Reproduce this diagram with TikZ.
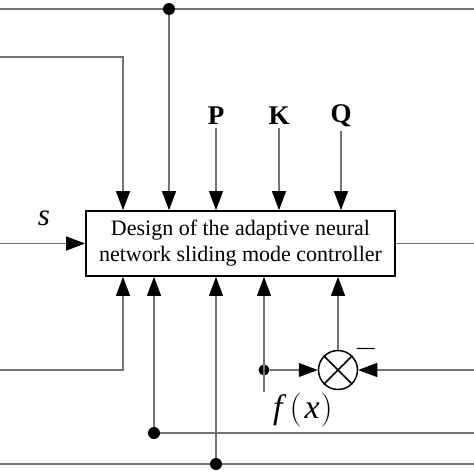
\RequirePackage{fix-cm}
\documentclass[tikz,border=0pt]{standalone}
\usepackage{fontspec}
\setmainfont{Liberation Serif}
\usetikzlibrary{arrows.meta,positioning}
\definecolor{wire}{gray}{0.45}

\begin{document}
\begin{tikzpicture}[x=1pt,y=-1pt,
    wire/.style={draw=wire, line width=1.1pt},
    sig/.style={wire, -{Triangle[length=19pt,width=14pt,color=black]}},
    ctrlbox/.style={draw, line width=1.7pt, minimum width=309pt, minimum height=65pt,
      inner sep=0pt, align=center, font=\fontsize{22}{26}\selectfont},
    junction/.style={circle, fill, inner sep=0pt, minimum size=12pt},
    gain/.style={font=\fontsize{27}{28}\selectfont\bfseries},
    mult/.style={circle, draw, line width=1.5pt, minimum size=39pt, inner sep=0pt}]
  \useasboundingbox (0,0) rectangle (474,474);
  \node[ctrlbox] (ctrl) at (240.5,243.5) {Design of the adaptive neural\\network sliding mode controller};

  % inputs from above
  \coordinate (topL) at (0,9);
  \coordinate (topR) at (474,9);
  \draw[wire] (topL) -- (topR);
  \node[junction] (dTop) at (169,9) {};
  \draw[sig] (dTop) -- (dTop |- ctrl.north);
  \coordinate (in2) at (0,57);
  \coordinate (in2c) at (123,57);
  \draw[sig] (in2) -- (in2c) -- (in2c |- ctrl.north);
  \node[gain] (P) at (216,116) {P};
  \node[gain] (K) at (279,116) {K};
  \node[gain] (Q) at (341,116) {Q};
  \foreach \g in {P,K,Q}
    \draw[sig] (\g.south) -- (\g |- ctrl.north);

  % left and right
  \node[font=\fontsize{31}{32}\selectfont\itshape] (s) at (44,218) {s};
  \coordinate (sIn) at (0,243.5);
  \coordinate (out) at (474,243.5);
  \draw[sig] (sIn) -- (ctrl.west);
  \draw[wire] (ctrl.east) -- (out);

  % inputs from below
  \coordinate (in3) at (0,370);
  \coordinate (in3c) at (123,370);
  \draw[sig] (in3) -- (in3c) -- (in3c |- ctrl.south);
  \node[junction] (dMid) at (154,433) {};
  \coordinate (midR) at (474,433);
  \draw[wire] (dMid) -- (midR);
  \draw[sig] (dMid) -- (dMid |- ctrl.south);
  \coordinate (lowL) at (0,464);
  \coordinate (lowR) at (474,464);
  \draw[wire] (lowL) -- (lowR);
  \node[junction] (dLow) at (216,464) {};
  \draw[sig] (dLow) -- (dLow |- ctrl.south);

  % error branch
  \coordinate (fEnd) at (264,392);
  \node[junction, minimum size=11pt] (dF) at (264,370) {};
  \draw[sig] (fEnd) -- (fEnd |- ctrl.south);
  \node[mult] (m) at (338,370) {};
  \draw[line width=1.5pt] (m.north west) -- (m.south east) (m.north east) -- (m.south west);
  \coordinate (refIn) at (474,370);
  \draw[sig] (dF) -- (m.west);
  \draw[sig] (refIn) -- (m.east);
  \draw[sig] (m.north) -- (m |- ctrl.south);
  \node[font=\fontsize{30}{32}\selectfont] (neg) at (366,349) {$-$};
  \node[font=\fontsize{34}{36}\selectfont] (fx) at (303,410)
    {\textit{f}\hspace{3pt}$\bigl($\hspace{3pt}\textit{x}\hspace{1pt}$\bigr)$};
\end{tikzpicture}
\end{document}
